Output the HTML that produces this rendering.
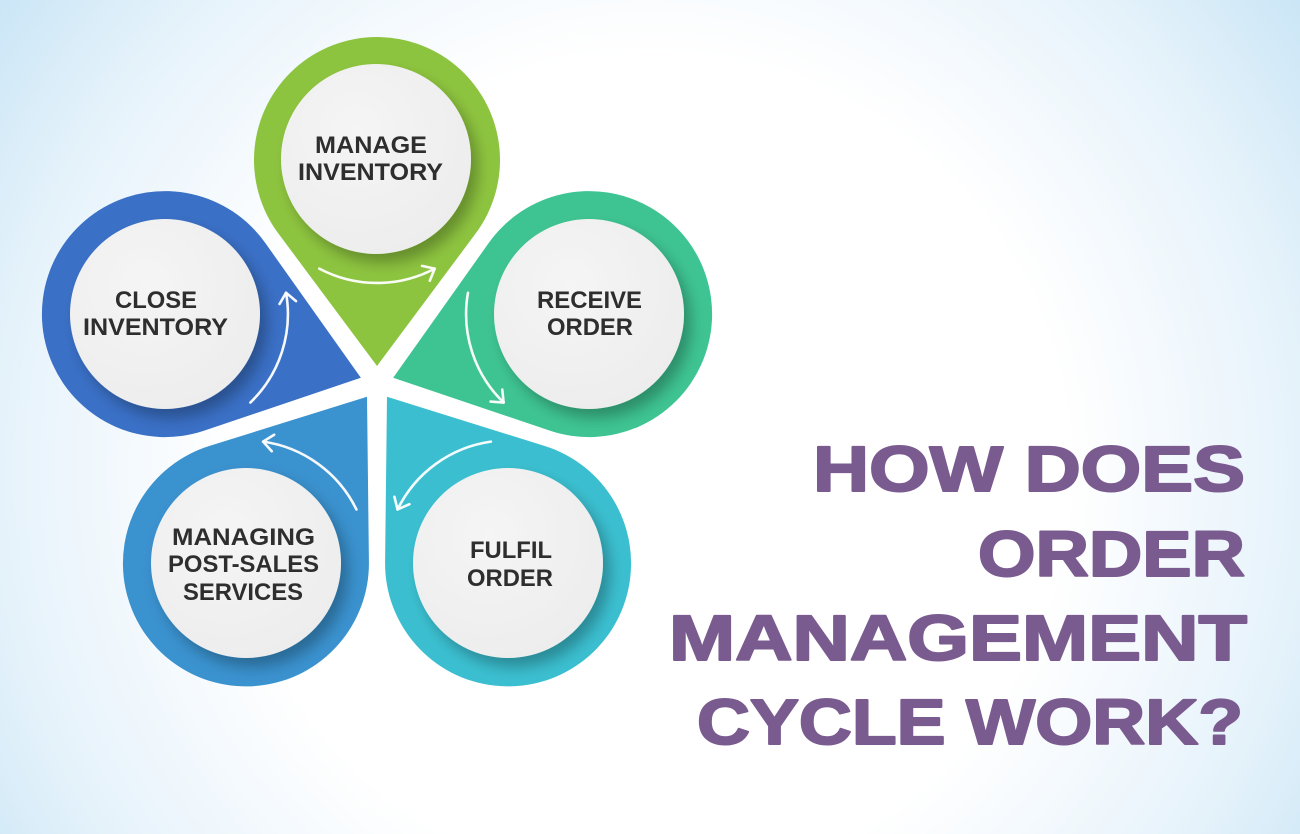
<!DOCTYPE html>
<html>
<head>
<meta charset="utf-8">
<style>
  html,body{margin:0;padding:0;}
  body{width:1300px;height:834px;overflow:hidden;background:#fff;}
  svg{display:block;}
  .lbl{font-family:"Liberation Sans",Arial,sans-serif;font-weight:bold;font-size:24px;fill:#2e2e2e;}
  .ttl{font-family:"Liberation Sans",Arial,sans-serif;font-weight:bold;font-size:64px;fill:#7a5b8f;stroke:#7a5b8f;stroke-width:2;stroke-linejoin:round;}
  .arw{fill:none;stroke:#ffffff;stroke-width:2.6;stroke-linecap:round;stroke-linejoin:round;opacity:0.95;}
</style>
</head>
<body>
<svg width="1300" height="834" viewBox="0 0 1300 834" xmlns="http://www.w3.org/2000/svg">
  <defs>
    <radialGradient id="bg" gradientUnits="userSpaceOnUse" cx="650" cy="470" r="800">
      <stop offset="0" stop-color="#ffffff"/>
      <stop offset="0.52" stop-color="#ffffff"/>
      <stop offset="0.8" stop-color="#e7f3fb"/>
      <stop offset="1" stop-color="#cbe6f6"/>
    </radialGradient>
    <radialGradient id="wc" cx="0.4" cy="0.35" r="0.75">
      <stop offset="0" stop-color="#f5f5f5"/>
      <stop offset="1" stop-color="#ececec"/>
    </radialGradient>
    <filter id="sh" x="-30%" y="-30%" width="170%" height="170%">
      <feDropShadow dx="7" dy="9" stdDeviation="7" flood-color="#000" flood-opacity="0.28"/>
    </filter>
  </defs>

  <rect x="0" y="0" width="1300" height="834" fill="url(#bg)"/>

  <!-- petals -->
  <g transform="rotate(0 377 383)">
    <path d="M377 366 L475.7 233.4 A123 123 0 1 0 278.3 233.4 Z" fill="#8dc43f"/>
    <path class="arw" d="M319.3 268.6 A123 123 0 0 0 434.7 268.6"/>
    <path class="arw" d="M422 265.9 L434.7 268.6 L429.8 280.7"/>
  </g>
  <g transform="rotate(72 377 383)">
    <path d="M377 366 L475.7 233.4 A123 123 0 1 0 278.3 233.4 Z" fill="#3ec492"/>
    <path class="arw" d="M319.3 268.6 A123 123 0 0 0 434.7 268.6"/>
    <path class="arw" d="M422 265.9 L434.7 268.6 L429.8 280.7"/>
  </g>
  <g transform="rotate(144 377 383)">
    <path d="M377 366 L475.7 233.4 A123 123 0 1 0 278.3 233.4 Z" fill="#3bbfd0"/>
    <path class="arw" d="M319.3 268.6 A123 123 0 0 0 434.7 268.6"/>
    <path class="arw" d="M422 265.9 L434.7 268.6 L429.8 280.7"/>
  </g>
  <g transform="rotate(216 377 383)">
    <path d="M377 366 L475.7 233.4 A123 123 0 1 0 278.3 233.4 Z" fill="#3a92cf"/>
    <path class="arw" d="M319.3 268.6 A123 123 0 0 0 434.7 268.6"/>
    <path class="arw" d="M422 265.9 L434.7 268.6 L429.8 280.7"/>
  </g>
  <g transform="rotate(288 377 383)">
    <path d="M377 366 L475.7 233.4 A123 123 0 1 0 278.3 233.4 Z" fill="#3a70c6"/>
    <path class="arw" d="M319.3 268.6 A123 123 0 0 0 434.7 268.6"/>
    <path class="arw" d="M422 265.9 L434.7 268.6 L429.8 280.7"/>
  </g>

  <!-- white circles -->
  <g filter="url(#sh)">
    <circle cx="376" cy="159" r="95" fill="url(#wc)"/>
    <circle cx="589" cy="314" r="95" fill="url(#wc)"/>
    <circle cx="508" cy="563" r="95" fill="url(#wc)"/>
    <circle cx="246" cy="563" r="95" fill="url(#wc)"/>
    <circle cx="165" cy="314" r="95" fill="url(#wc)"/>
  </g>

  <!-- labels -->
  <text class="lbl" x="315" y="153" textLength="112" lengthAdjust="spacingAndGlyphs">MANAGE</text>
  <text class="lbl" x="298" y="180" textLength="145" lengthAdjust="spacingAndGlyphs">INVENTORY</text>

  <text class="lbl" x="537" y="308" textLength="105" lengthAdjust="spacingAndGlyphs">RECEIVE</text>
  <text class="lbl" x="547" y="335" textLength="86" lengthAdjust="spacingAndGlyphs">ORDER</text>

  <text class="lbl" x="470" y="558" textLength="82" lengthAdjust="spacingAndGlyphs">FULFIL</text>
  <text class="lbl" x="467" y="586" textLength="86" lengthAdjust="spacingAndGlyphs">ORDER</text>

  <text class="lbl" x="172" y="545" textLength="143" lengthAdjust="spacingAndGlyphs">MANAGING</text>
  <text class="lbl" x="168" y="572" textLength="151" lengthAdjust="spacingAndGlyphs">POST-SALES</text>
  <text class="lbl" x="183" y="600" textLength="120" lengthAdjust="spacingAndGlyphs">SERVICES</text>

  <text class="lbl" x="115" y="308" textLength="82" lengthAdjust="spacingAndGlyphs">CLOSE</text>
  <text class="lbl" x="83" y="335" textLength="145" lengthAdjust="spacingAndGlyphs">INVENTORY</text>

  <!-- title -->
  <text class="ttl" x="813" y="491" textLength="432" lengthAdjust="spacingAndGlyphs">HOW DOES</text>
  <text class="ttl" x="978" y="576" textLength="267" lengthAdjust="spacingAndGlyphs">ORDER</text>
  <text class="ttl" x="669" y="660" textLength="578" lengthAdjust="spacingAndGlyphs">MANAGEMENT</text>
  <text class="ttl" x="697" y="744" textLength="546" lengthAdjust="spacingAndGlyphs">CYCLE WORK?</text>
</svg>
</body>
</html>
